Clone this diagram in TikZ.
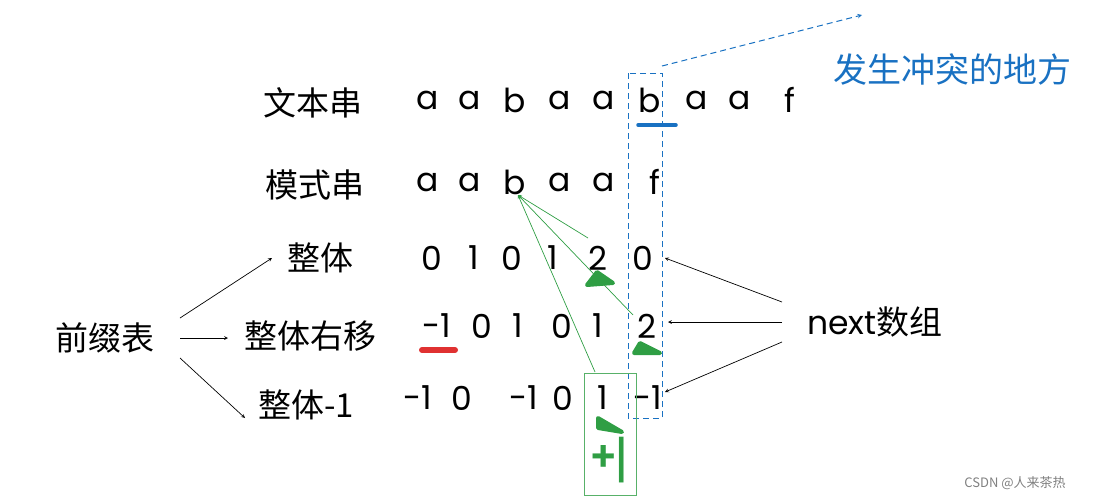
\documentclass[tikz,border=0pt]{standalone}
\usepackage{fontspec}
\setmainfont{Noto Sans CJK SC}
\newfontfamily\lat{Poppins}
\definecolor{xblue}{HTML}{1971C2}
\definecolor{xgreen}{HTML}{2F9E44}
\definecolor{xred}{HTML}{E03131}
\begin{document}
\begin{tikzpicture}[x=1pt,y=-1pt,
 lbl/.style={font=\fontsize{33}{35}\selectfont},
 ch/.style={font=\lat\fontsize{33}{35}\selectfont},
 bk/.style={->,line width=0.7pt,>=stealth},
 gr/.style={->,draw=xgreen,line width=0.7pt,>=stealth},
 dsh/.style={draw=xblue,dash pattern=on 6pt off 4pt,line width=1pt},
 tri/.style={fill=xgreen,draw=xgreen,line width=4pt,line join=round}]
\useasboundingbox (0,0) rectangle (1098,501);
\node[lbl] (t) at (313,103) {文本串};
\foreach \x/\c [count=\i] in {428/a,470/a,515/b,560/a,604/a,650/b,697/a,740/a,790/f}
  \node[ch] (t\i) at (\x,100) {\c};
\draw[line width=3.5pt,xblue,line cap=round] (638,125) -- (676,125);
\node[lbl] (m) at (315,185) {模式串};
\foreach \x/\c [count=\i] in {428/a,470/a,515/b,560/a,604/a,655/f}
  \node[ch] (m\i) at (\x,182) {\c};
\node[lbl] (r1) at (320,258) {整体};
\foreach \x/\c [count=\i] in {432/0,474/1,512/0,553/1,598/2,643/0}
  \node[ch] (a\i) at (\x,258) {\c};
\node[lbl] (r2) at (310,336) {整体右移};
\foreach \x/\c [count=\i] in {437/-1,482/0,518/1,562/0,598/1,647/2}
  \node[ch] (b\i) at (\x,326) {\c};
\draw[line width=6pt,xred,line cap=round] (422,350) -- (455,350);
\node[lbl] (r3) at (306,405) {整体-1};
\foreach \x/\c [count=\i] in {418/-1,462/0,524/-1,563/0,603/1,648/-1}
  \node[ch] (c\i) at (\x,398) {\c};
\node[lbl] (p) at (105,338) {前缀表};
\draw[bk] (180,318) -- (272,258);
\draw[bk] (180,338) -- (228,338);
\draw[bk] (180,358) -- (245,418);
\node[lbl,font=\lat\fontsize{33}{35}\selectfont] (n) at (875,322) {next\fontspec{Noto Sans CJK SC}数组};
\draw[bk] (782,302) -- (665,258);
\draw[bk] (782,322) -- (668,322);
\draw[bk] (782,342) -- (665,392);
\draw[dsh] (628,73) rectangle (662,418);
\coordinate (d0) at (662,66);
\coordinate (d1) at (862,15);
\draw[dsh,->,>=stealth] (d0) -- (d1);
\node[font=\fontsize{34}{36}\selectfont,text=xblue] (c) at (952,70) {发生冲突的地方};
\draw[xgreen!80,line width=0.8pt] (584,373) rectangle (636,495);
\coordinate (bt) at (518,195);
\draw[gr] (588,238) -- (bt);
\draw[gr] (633,315) -- (bt);
\draw[gr] (595,372) -- (bt);
\draw[tri] (587,285) -- (613,283) -- (597,272) -- cycle;
\draw[tri] (634,353) -- (660,353) -- (640,343) -- cycle;
\draw[tri] (598,428) -- (622,432) -- (598,418) -- cycle;
\node[font=\fontsize{40}{42}\selectfont\bfseries,text=xgreen] (pl) at (610,460) {+|};
\node[font=\fontsize{13}{14}\selectfont,text=gray] (w) at (1015,483) {CSDN @人来茶热};
\end{tikzpicture}
\end{document}
